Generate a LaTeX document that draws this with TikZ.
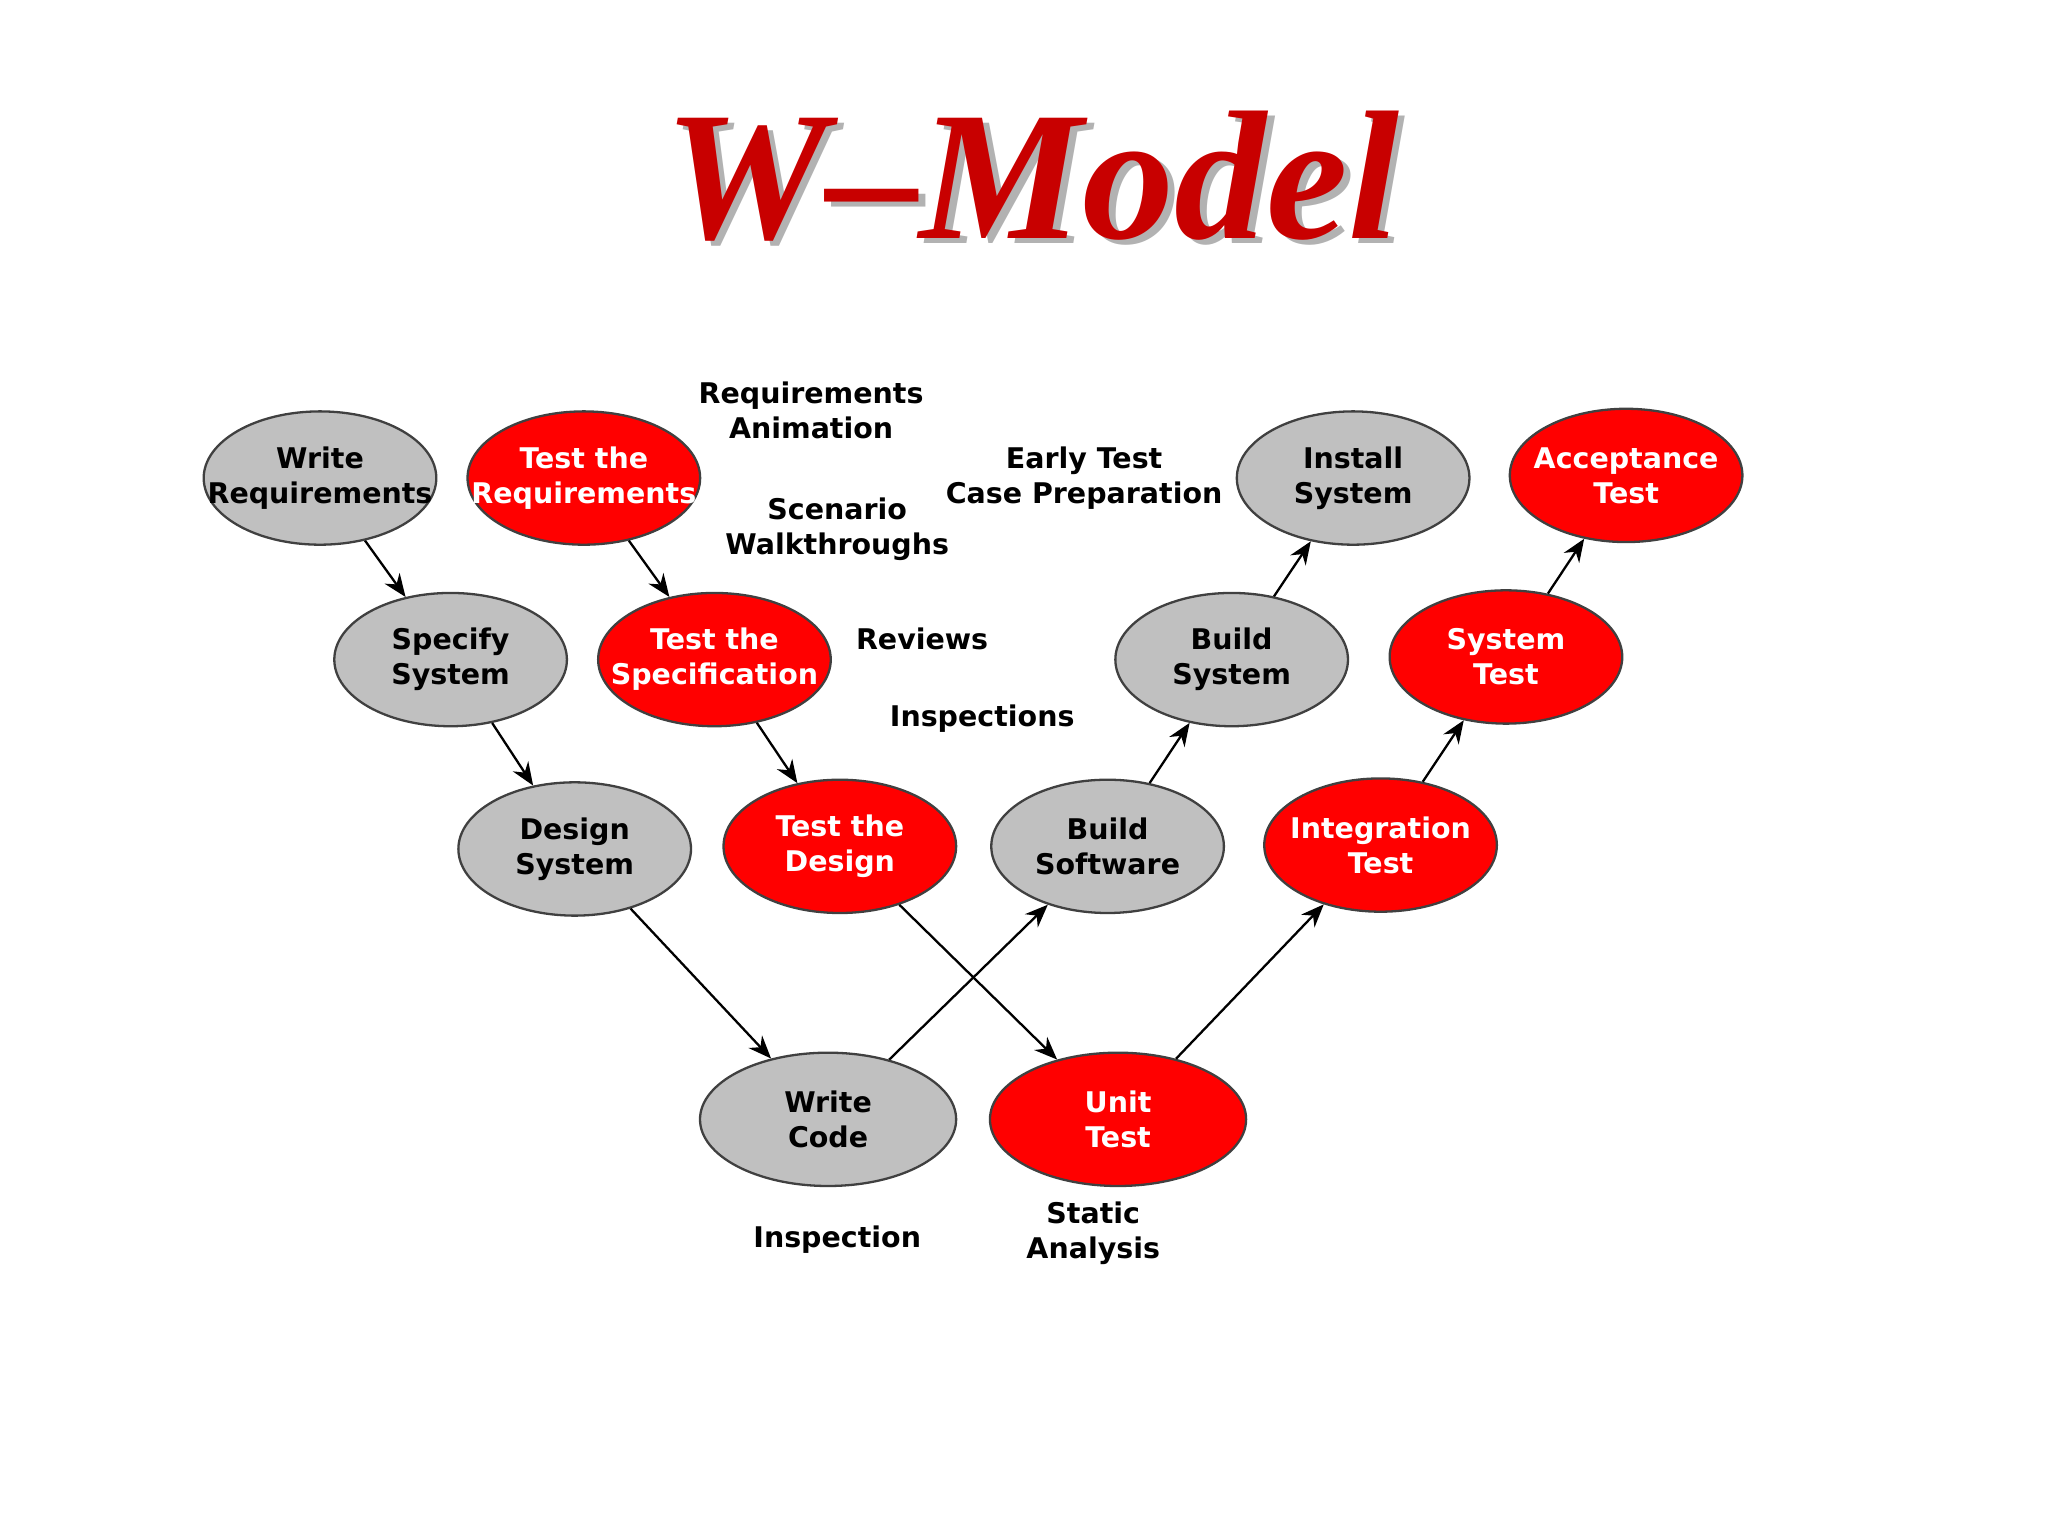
\documentclass[tikz,border=0pt]{standalone}
\usepackage{fontspec}
\setmainfont{DejaVu Sans}
\newfontfamily\titlefont{Liberation Serif}
\usetikzlibrary{shapes.geometric,arrows.meta}
\definecolor{titlered}{RGB}{200,0,0}
\definecolor{nodegray}{RGB}{192,192,192}
\tikzset{
 ell/.style={ellipse,draw=black!75,line width=0.5pt,minimum width=1.78cm,minimum height=1.02cm,inner sep=0pt},
 gnode/.style={ell,fill=nodegray},
 rnode/.style={ell,fill=red},
 ntext/.style={align=center,font=\bfseries\fontsize{6.2}{7.6}\selectfont},
 lbl/.style={align=center,font=\bfseries\fontsize{6.2}{7.6}\selectfont},
 arr/.style={-{Stealth[length=5pt,width=4pt]},line width=0.5pt}
}
\begin{document}
\begin{tikzpicture}[x=0.01cm,y=-0.01cm]
\useasboundingbox (0,0) rectangle (1568,1176);
\node[text=black!30] at (795,139) {\titlefont\bfseries\itshape\fontsize{40}{40}\selectfont W–Model};
\node[text=titlered] (title) at (790,135) {\titlefont\bfseries\itshape\fontsize{40}{40}\selectfont W–Model};
\node[gnode] (wr) at (245,366) {}; \node[ntext] at (wr) {Write\\Requirements};
\node[rnode] (tr) at (447,366) {}; \node[ntext,text=white] at (tr) {Test the\\Requirements};
\node[gnode] (ss) at (345,505) {}; \node[ntext] at (ss) {Specify\\System};
\node[rnode] (ts) at (547,505) {}; \node[ntext,text=white] at (ts) {Test the\\Specification};
\node[gnode] (ds) at (440,650) {}; \node[ntext] at (ds) {Design\\System};
\node[rnode] (td) at (643,648) {}; \node[ntext,text=white] at (td) {Test the\\Design};
\node[gnode,minimum width=1.96cm] (wc) at (634,857) {}; \node[ntext] at (wc) {Write\\Code};
\node[rnode,minimum width=1.96cm] (ut) at (856,857) {}; \node[ntext,text=white] at (ut) {Unit\\Test};
\node[gnode] (bs) at (848,648) {}; \node[ntext] at (bs) {Build\\Software};
\node[gnode] (bsy) at (943,505) {}; \node[ntext] at (bsy) {Build\\System};
\node[gnode] (is) at (1036,366) {}; \node[ntext] at (is) {Install\\System};
\node[rnode] (it) at (1057,647) {}; \node[ntext,text=white] at (it) {Integration\\Test};
\node[rnode] (st) at (1153,503) {}; \node[ntext,text=white] at (st) {System\\Test};
\node[rnode] (at) at (1245,364) {}; \node[ntext,text=white] at (at) {Acceptance\\Test};
\draw[arr] (wr) -- (ss);
\draw[arr] (ss) -- (ds);
\draw[arr] (ds) -- (wc);
\draw[arr] (tr) -- (ts);
\draw[arr] (ts) -- (td);
\draw[arr] (td) -- (ut);
\draw[arr] (wc) -- (bs);
\draw[arr] (bs) -- (bsy);
\draw[arr] (bsy) -- (is);
\draw[arr] (ut) -- (it);
\draw[arr] (it) -- (st);
\draw[arr] (st) -- (at);
\node[lbl] (l1) at (621,314) {Requirements\\Animation};
\node[lbl] (l2) at (641,405) {Scenario\\Walkthroughs};
\node[lbl] (l3) at (830,366) {Early Test\\Case Preparation};
\node[lbl] (l4) at (706,489) {Reviews};
\node[lbl] (l5) at (752,550) {Inspections};
\node[lbl] (l6) at (641,949) {Inspection};
\node[lbl] (l7) at (837,944) {Static\\Analysis};
\end{tikzpicture}
\end{document}
